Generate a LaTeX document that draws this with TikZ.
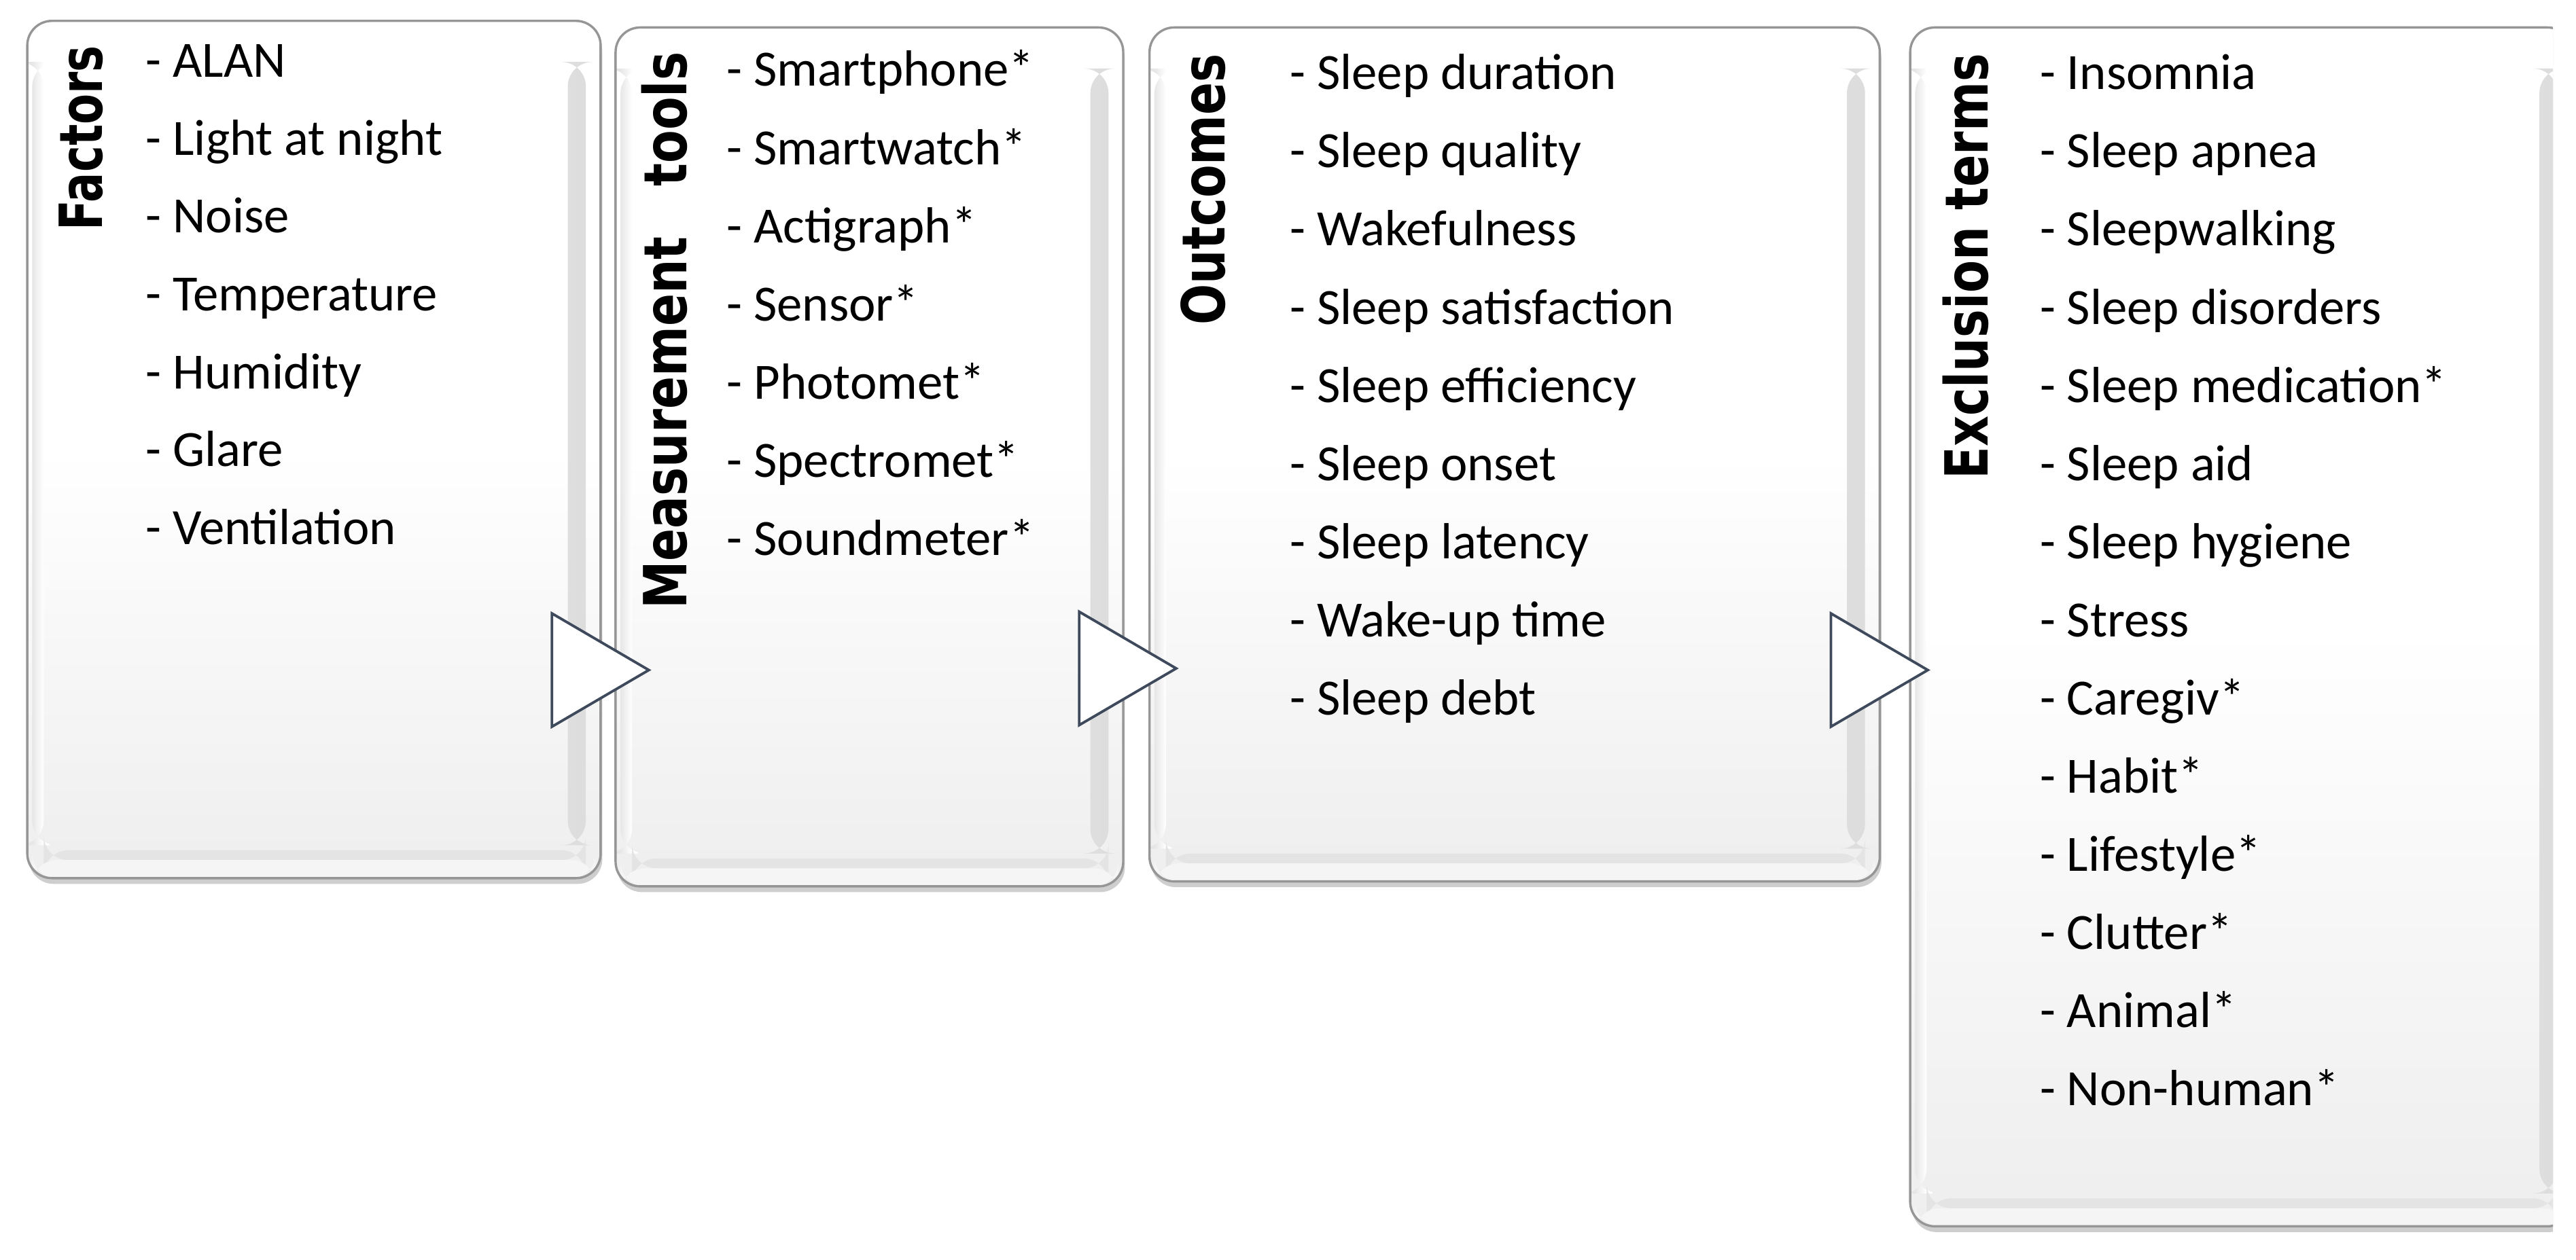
\documentclass[tikz,border=0pt]{standalone}
\usepackage{fontspec}
\newfontfamily\itemfont{Carlito}
\newfontfamily\headfont{DejaVu Sans}
\usetikzlibrary{shapes.geometric,shadows,positioning}
\definecolor{boxLine}{HTML}{969696}
\definecolor{boxShade}{HTML}{EEEEEE}
\definecolor{boxBevel}{HTML}{DCDCDC}
\definecolor{boxBand}{HTML}{E4E4E4}
\definecolor{boxLip}{HTML}{F5F5F5}
\definecolor{triLine}{HTML}{3E4A5C}

\begin{document}
\begin{tikzpicture}[
  x=1mm,y=1mm,
  panel/.style={draw=boxLine, line width=0.4pt, rounded corners=1.5mm,
    top color=white, bottom color=boxShade, middle color=white, inner sep=0pt,
    anchor=north west,
    drop shadow={shadow xshift=0.1mm, shadow yshift=-0.35mm, opacity=0.35, fill=black!55},
    path picture={
      \shade[left color=white, right color=boxBevel]
        ([shift={(-2.0,-2.5)}]path picture bounding box.north east) rectangle
        ([shift={(-0.9,2.0)}]path picture bounding box.south east);
      \shade[left color=boxBevel!70, right color=white]
        ([shift={(0.3,-2.5)}]path picture bounding box.north west) rectangle
        ([shift={(1.0,2.0)}]path picture bounding box.south west);
      \fill[boxBand] ([shift={(1.0,1.1)}]path picture bounding box.south west) rectangle
        ([shift={(-0.9,1.7)}]path picture bounding box.south east);
      \fill[boxLip] ([shift={(0.3,0)}]path picture bounding box.south west) rectangle
        ([shift={(-0.3,1.1)}]path picture bounding box.south east);
    }},
  tri/.style={isosceles triangle, isosceles triangle stretches, draw=triLine,
    line width=0.45pt, fill=white, minimum width=6.9mm, minimum height=5.9mm,
    inner sep=0pt, anchor=apex},
  head/.style={rotate=90, anchor=base east, inner sep=0pt,
    font=\headfont\bfseries\fontsize{10.3}{12}\selectfont},
  item/.style={anchor=base west, inner sep=0pt,
    font=\itemfont\fontsize{8.8}{10}\selectfont}
]
\useasboundingbox (0,0) rectangle (156.8,-76.7);

\node[panel, minimum width=34.9mm, minimum height=52.2mm] (factors) at (1.59,-1.2) {};
\node[panel, minimum width=30.9mm, minimum height=52.3mm] (tools) at (37.4,-1.6) {};
\node[panel, minimum width=44.45mm, minimum height=52mm] (outcomes) at (69.9,-1.6) {};
\begin{scope}
  \clip (100,0) rectangle (155.4,-80);
  \node[panel, minimum width=40.3mm, minimum height=73mm] (exclusion) at (116.2,-1.6) {};
\end{scope}

\node[tri] (arr1) at (39.7,-40.8) {};
\node[tri] (arr2) at (71.8,-40.7) {};
\node[tri] (arr3) at (117.55,-40.8) {};

\node[head] (factorsHead) at ([shift={(4.62,-1.5)}]factors.north west)
  {\scalebox{0.75}[1]{Factors}};
\node[head] (toolsHead) at ([shift={(4.4,-1.5)}]tools.north west)
  {\scalebox{0.81}[1]{Measurement\hspace{1.04em}tools}};
\node[head] (outcomesHead) at ([shift={(4.66,-1.6)}]outcomes.north west)
  {\scalebox{0.81}[1]{Outcomes}};
\node[head] (exclusionHead) at ([shift={(4.8,-1.6)}]exclusion.north west)
  {\scalebox{0.8}[1]{Exclusion terms}};

\foreach \txt [count=\k from 0] in {ALAN,Light at night,Noise,Temperature,
    Humidity,Glare,Ventilation}
  \node[item] (fac\k) at ([shift={(7.22,{-3.5-4.74*\k})}]factors.north west) {- \txt};
\foreach \txt [count=\k from 0] in {Smartphone*,Smartwatch*,Actigraph*,Sensor*,
    Photomet*,Spectromet*,Soundmeter*}
  \node[item] (tool\k) at ([shift={(6.77,{-3.65-4.76*\k})}]tools.north west) {- \txt};
\foreach \txt [count=\k from 0] in {Sleep duration,Sleep quality,Wakefulness,
    Sleep satisfaction,Sleep efficiency,Sleep onset,Sleep latency,Wake-up time,Sleep debt}
  \node[item] (out\k) at ([shift={(8.55,{-3.85-4.76*\k})}]outcomes.north west) {- \txt};
\foreach \txt [count=\k from 0] in {Insomnia,Sleep apnea,Sleepwalking,Sleep disorders,
    Sleep medication*,Sleep aid,Sleep hygiene,Stress,Caregiv*,Habit*,Lifestyle*,
    Clutter*,Animal*,Non-human*}
  \node[item] (exc\k) at ([shift={(7.9,{-3.85-4.76*\k})}]exclusion.north west) {- \txt};
\end{tikzpicture}
\end{document}
